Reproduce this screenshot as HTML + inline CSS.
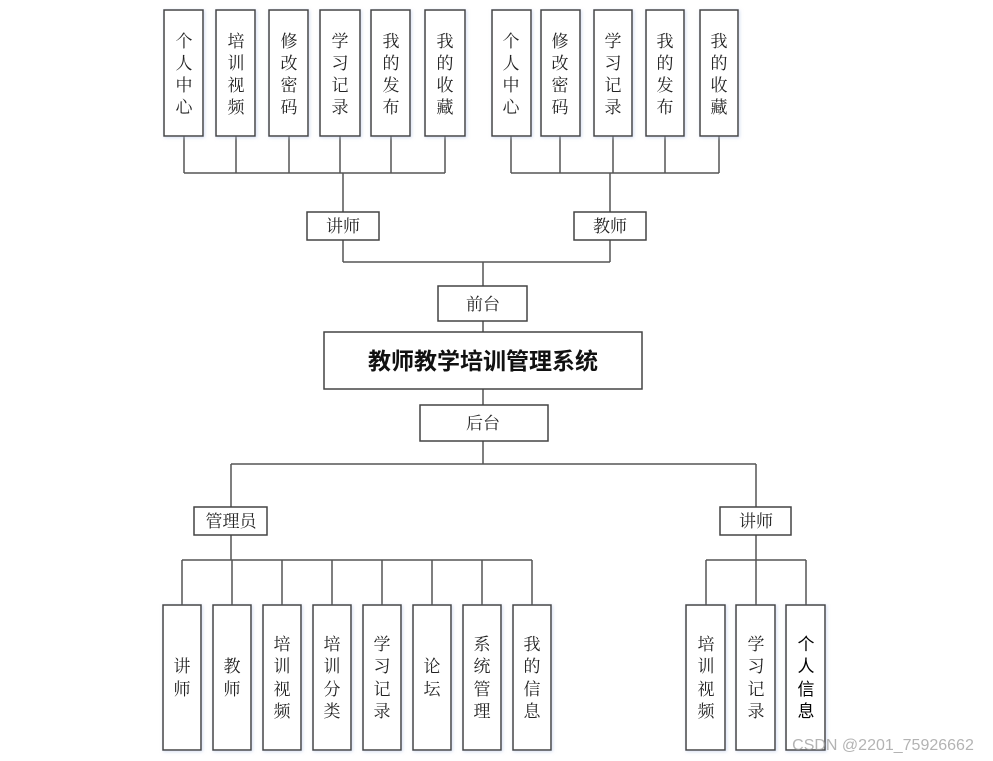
<!DOCTYPE html>
<html><head><meta charset="utf-8"><style>
html,body{margin:0;padding:0;background:#fff;}
svg{display:block;}
.t{font-family:"Liberation Serif","Noto Serif CJK SC",serif;font-size:17px;fill:#222;text-anchor:middle;}
.b{fill:#fff;stroke:#444;stroke-width:1.5;}
.l{stroke:#555;stroke-width:1.5;fill:none;}
</style></head><body>
<svg width="993" height="761" xmlns="http://www.w3.org/2000/svg">
<defs><filter id="sh" x="-20%" y="-20%" width="140%" height="140%"><feDropShadow dx="1" dy="1" stdDeviation="1.5" flood-color="#b8c8e8" flood-opacity="0.6"/></filter></defs>
<!-- top connectors -->
<path class="l" d="M184 136V173M236 136V173M289 136V173M340 136V173M391 136V173M445 136V173M184 173H445M343 173V212"/>
<path class="l" d="M511 136V173M560 136V173M613 136V173M665 136V173M719 136V173M511 173H719M610 173V212"/>
<path class="l" d="M343 240V262M610 240V262M343 262H610M483 262V286M483 321V332M483 389V405M483 441V464M231 464H756M231 464V507M756 464V507"/>
<path class="l" d="M231 535V560M182 560H532M182 560V605M232 560V605M282 560V605M332 560V605M382 560V605M432 560V605M482 560V605M532 560V605"/>
<path class="l" d="M756 535V560M706 560H806M706 560V605M756 560V605M806 560V605"/>
<!-- top boxes -->
<g filter="url(#sh)">
<rect class="b" x="164" y="10" width="39" height="126"/>
<rect class="b" x="216" y="10" width="39" height="126"/>
<rect class="b" x="269" y="10" width="39" height="126"/>
<rect class="b" x="320" y="10" width="40" height="126"/>
<rect class="b" x="371" y="10" width="39" height="126"/>
<rect class="b" x="425" y="10" width="40" height="126"/>
<rect class="b" x="492" y="10" width="39" height="126"/>
<rect class="b" x="541" y="10" width="39" height="126"/>
<rect class="b" x="594" y="10" width="38" height="126"/>
<rect class="b" x="646" y="10" width="38" height="126"/>
<rect class="b" x="700" y="10" width="38" height="126"/>
<rect class="b" x="163" y="605" width="38" height="145"/>
<rect class="b" x="213" y="605" width="38" height="145"/>
<rect class="b" x="263" y="605" width="38" height="145"/>
<rect class="b" x="313" y="605" width="38" height="145"/>
<rect class="b" x="363" y="605" width="38" height="145"/>
<rect class="b" x="413" y="605" width="38" height="145"/>
<rect class="b" x="463" y="605" width="38" height="145"/>
<rect class="b" x="513" y="605" width="38" height="145"/>
<rect class="b" x="686" y="605" width="39" height="145"/>
<rect class="b" x="736" y="605" width="39" height="145"/>
<rect class="b" x="786" y="605" width="39" height="145"/>
</g>
<rect class="b" x="307" y="212" width="72" height="28"/>
<rect class="b" x="574" y="212" width="72" height="28"/>
<rect class="b" x="438" y="286" width="89" height="35"/>
<rect class="b" x="324" y="332" width="318" height="57"/>
<rect class="b" x="420" y="405" width="128" height="36"/>
<rect class="b" x="194" y="507" width="73" height="28"/>
<rect class="b" x="720" y="507" width="71" height="28"/>
<!-- labels -->
<g class="t">
<text x="343" y="232">讲师</text>
<text x="610" y="232">教师</text>
<text x="483" y="310">前台</text>
<text x="483" y="429">后台</text>
<text x="231" y="527">管理员</text>
<text x="756" y="527">讲师</text>
</g>
<text x="483" y="369" style="font-family:'Liberation Sans','Noto Sans CJK SC',sans-serif;font-size:23px;font-weight:bold;text-anchor:middle;fill:#111">教师教学培训管理系统</text>
<g class="t">
<text x="184" y="47">个</text><text x="184" y="69">人</text><text x="184" y="91">中</text><text x="184" y="113">心</text>
<text x="236" y="47">培</text><text x="236" y="69">训</text><text x="236" y="91">视</text><text x="236" y="113">频</text>
<text x="289" y="47">修</text><text x="289" y="69">改</text><text x="289" y="91">密</text><text x="289" y="113">码</text>
<text x="340" y="47">学</text><text x="340" y="69">习</text><text x="340" y="91">记</text><text x="340" y="113">录</text>
<text x="391" y="47">我</text><text x="391" y="69">的</text><text x="391" y="91">发</text><text x="391" y="113">布</text>
<text x="445" y="47">我</text><text x="445" y="69">的</text><text x="445" y="91">收</text><text x="445" y="113">藏</text>
<text x="511" y="47">个</text><text x="511" y="69">人</text><text x="511" y="91">中</text><text x="511" y="113">心</text>
<text x="560" y="47">修</text><text x="560" y="69">改</text><text x="560" y="91">密</text><text x="560" y="113">码</text>
<text x="613" y="47">学</text><text x="613" y="69">习</text><text x="613" y="91">记</text><text x="613" y="113">录</text>
<text x="665" y="47">我</text><text x="665" y="69">的</text><text x="665" y="91">发</text><text x="665" y="113">布</text>
<text x="719" y="47">我</text><text x="719" y="69">的</text><text x="719" y="91">收</text><text x="719" y="113">藏</text>
<text x="182" y="672">讲</text><text x="182" y="695">师</text>
<text x="232" y="672">教</text><text x="232" y="695">师</text>
<text x="282" y="650">培</text><text x="282" y="672">训</text><text x="282" y="695">视</text><text x="282" y="717">频</text>
<text x="332" y="650">培</text><text x="332" y="672">训</text><text x="332" y="695">分</text><text x="332" y="717">类</text>
<text x="382" y="650">学</text><text x="382" y="672">习</text><text x="382" y="695">记</text><text x="382" y="717">录</text>
<text x="432" y="672">论</text><text x="432" y="695">坛</text>
<text x="482" y="650">系</text><text x="482" y="672">统</text><text x="482" y="695">管</text><text x="482" y="717">理</text>
<text x="532" y="650">我</text><text x="532" y="672">的</text><text x="532" y="695">信</text><text x="532" y="717">息</text>
<text x="706" y="650">培</text><text x="706" y="672">训</text><text x="706" y="695">视</text><text x="706" y="717">频</text>
<text x="756" y="650">学</text><text x="756" y="672">习</text><text x="756" y="695">记</text><text x="756" y="717">录</text>
</g>
<g style="font-family:'Liberation Sans','Noto Sans CJK SC',sans-serif;font-size:17px;text-anchor:middle;fill:#000">
<text x="806" y="650">个</text><text x="806" y="672">人</text><text x="806" y="695">信</text><text x="806" y="717">息</text>
</g>
<text x="883" y="750" style="font-family:'Liberation Sans',sans-serif;font-size:16px;fill:#999;fill-opacity:0.75;text-anchor:middle">CSDN @2201_75926662</text>
</svg>
</body></html>
